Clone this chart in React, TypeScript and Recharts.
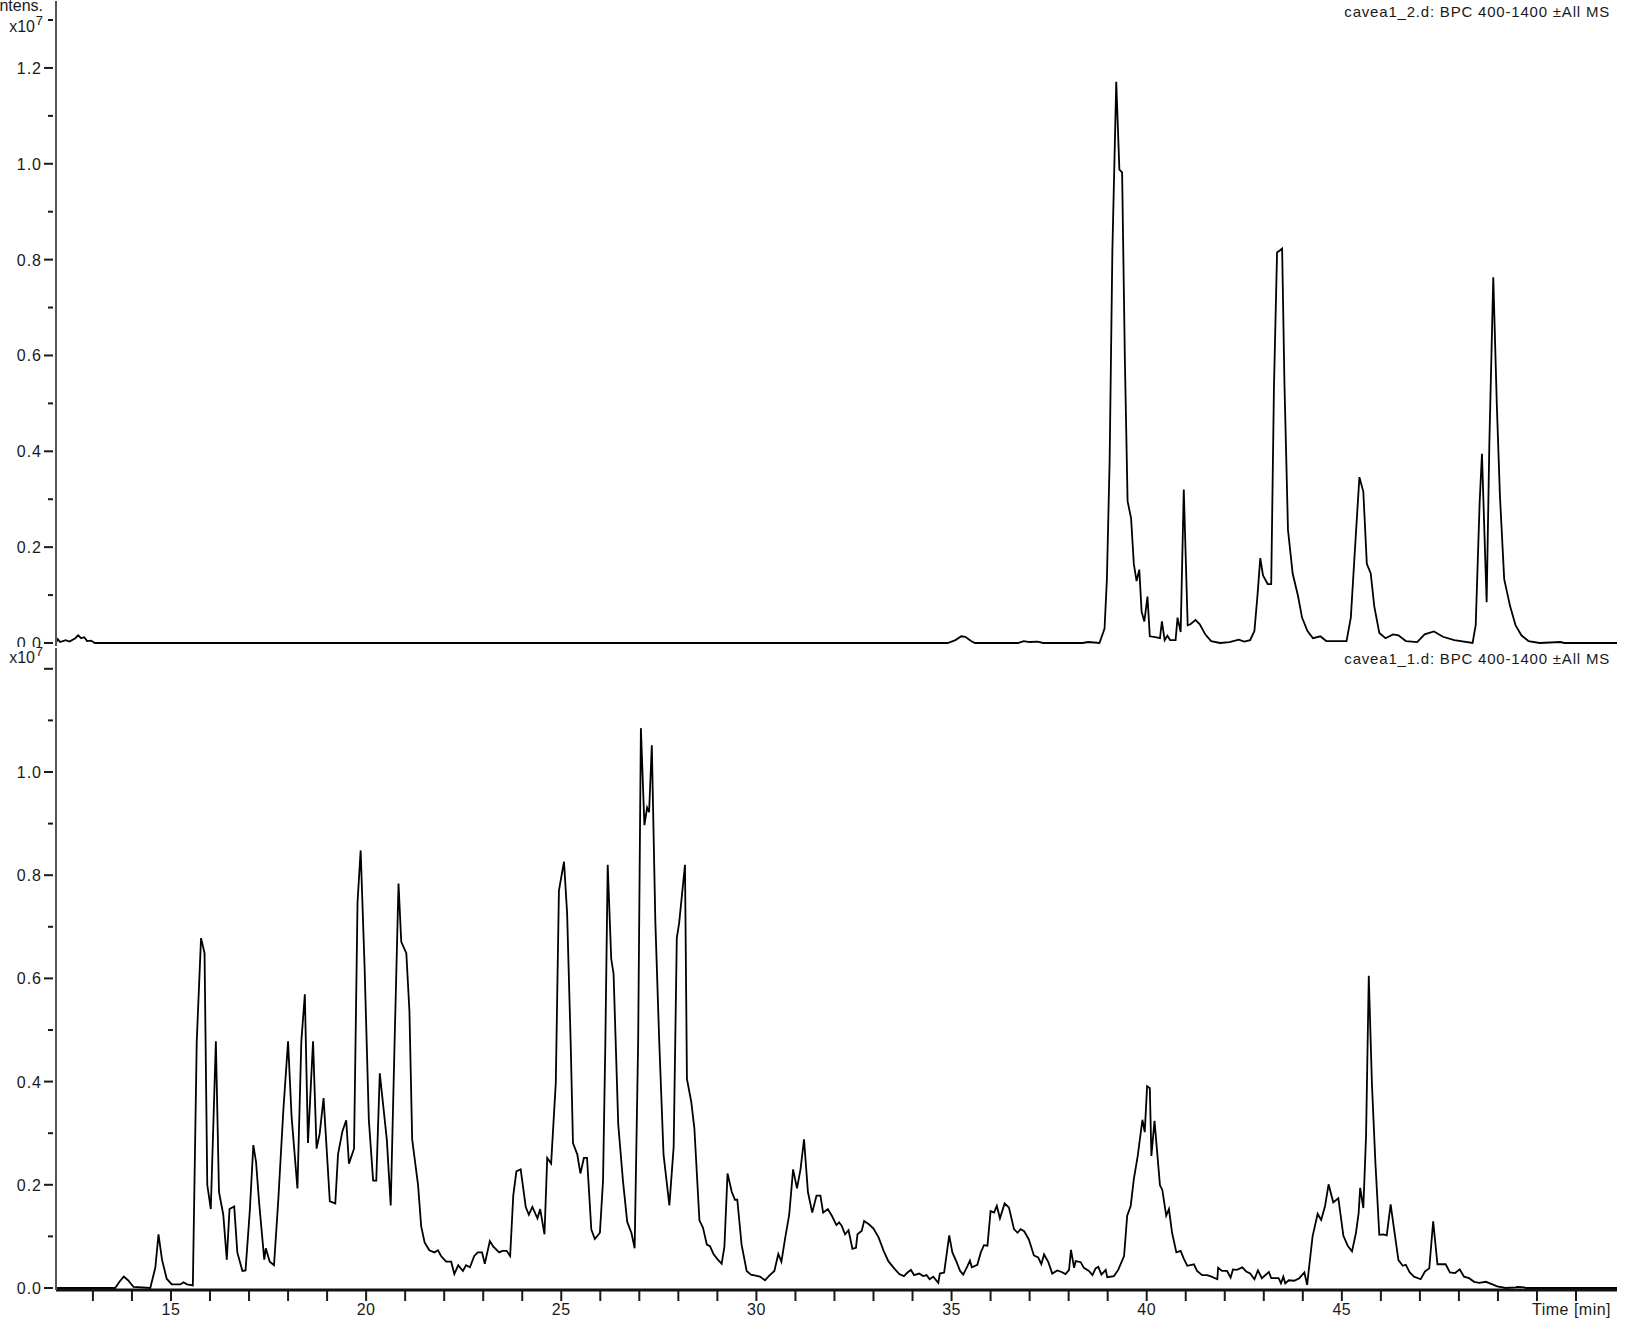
import React from "react"
import { LineChart, Line, XAxis, YAxis } from "recharts"

// time [min] ranges shown in both panels
const X_DOMAIN: [number, number] = [12.054, 52.05]
const X_TICKS = [13, 14, 15, 16, 17, 18, 19, 20, 21, 22, 23, 24, 25, 26, 27, 28, 29, 30, 31, 32, 33, 34, 35, 36, 37, 38, 39, 40, 41, 42, 43, 44, 45, 46, 47, 48, 49, 50, 51]

const TOP_Y_TICKS = [0, 0.1, 0.2, 0.3, 0.4, 0.5, 0.6, 0.7, 0.8, 0.9, 1.0, 1.1, 1.2, 1.3]
const BOTTOM_Y_TICKS = [0, 0.1, 0.2, 0.3, 0.4, 0.5, 0.6, 0.7, 0.8, 0.9, 1.0, 1.1, 1.2]

const TOP_TITLE = "cavea1_2.d: BPC 400-1400 ±All MS"
const BOTTOM_TITLE = "cavea1_1.d: BPC 400-1400 ±All MS"

// cavea1_2.d, [time, intensity x10^7]
const TOP_EARLY: [number, number][] = [
  [12.05, 0], [12.1, 0.008], [12.16, 0.002], [12.3, 0.006], [12.4, 0.003], [12.55, 0.01], [12.62, 0.016],
  [12.7, 0.01], [12.78, 0.012], [12.85, 0.004], [12.95, 0.005], [13.05, 0], [34.9, 0], [35.1, 0.006],
  [35.25, 0.014], [35.35, 0.013], [35.5, 0.004], [35.6, 0], [36.7, 0], [36.85, 0.004], [37.0, 0.002],
  [37.2, 0.003], [37.35, 0], [38.36, 0], [38.5, 0.002], [38.79, 0],
]
const TOP_LATE: [number, number][] = [
  [38.92, 0.03], [38.98, 0.133], [39.05, 0.379], [39.12, 0.817], [39.22, 1.171], [39.3, 0.988], [39.37, 0.982],
  [39.44, 0.594], [39.51, 0.296], [39.6, 0.26], [39.67, 0.165], [39.74, 0.129], [39.81, 0.153], [39.87, 0.065],
  [39.94, 0.045], [40.02, 0.097], [40.08, 0.014], [40.22, 0.012], [40.34, 0.01], [40.39, 0.045], [40.46, 0.006],
  [40.53, 0.015], [40.6, 0.006], [40.74, 0.006], [40.79, 0.053], [40.87, 0.023], [40.95, 0.32], [41.05, 0.037],
  [41.12, 0.039], [41.25, 0.048], [41.36, 0.039], [41.5, 0.018], [41.65, 0.004], [41.88, 0], [42.12, 0.002],
  [42.36, 0.007], [42.5, 0.003], [42.65, 0.006], [42.76, 0.025], [42.84, 0.101], [42.91, 0.177], [42.98, 0.141],
  [43.1, 0.123], [43.19, 0.123], [43.26, 0.531], [43.34, 0.815], [43.41, 0.819], [43.47, 0.823], [43.53, 0.539],
  [43.62, 0.236], [43.74, 0.145], [43.88, 0.097], [43.98, 0.053], [44.12, 0.025], [44.26, 0.01], [44.45, 0.014],
  [44.6, 0.004], [45.12, 0.004], [45.23, 0.053], [45.36, 0.228], [45.45, 0.346], [45.55, 0.316], [45.64, 0.165],
  [45.74, 0.145], [45.83, 0.077], [45.96, 0.021], [46.12, 0.01], [46.31, 0.018], [46.45, 0.016], [46.64, 0.004],
  [46.93, 0.002], [47.12, 0.018], [47.36, 0.024], [47.59, 0.013], [47.88, 0.006], [48.35, 0], [48.43, 0.037],
  [48.53, 0.292], [48.59, 0.395], [48.66, 0.212], [48.71, 0.085], [48.78, 0.419], [48.88, 0.763], [48.97, 0.499],
  [49.05, 0.308], [49.16, 0.133], [49.31, 0.077], [49.45, 0.037], [49.6, 0.016], [49.78, 0.004], [50.07, 0],
  [50.6, 0.002], [50.7, 0], [52.05, 0],
]

// cavea1_1.d
const BOTTOM_A: [number, number][] = [
  [12.05, 0], [13.19, 0], [13.57, 0], [13.68, 0.012], [13.79, 0.022], [13.9, 0.015], [14.04, 0.002], [14.47, 0],
  [14.6, 0.04], [14.68, 0.104], [14.77, 0.055], [14.89, 0.018], [15.02, 0.007], [15.24, 0.007], [15.32, 0.011],
  [15.41, 0.007], [15.56, 0.005], [15.66, 0.478], [15.77, 0.678], [15.86, 0.649], [15.93, 0.2], [16.02, 0.153],
  [16.15, 0.478], [16.23, 0.186], [16.34, 0.142], [16.43, 0.055], [16.5, 0.153], [16.62, 0.158], [16.7, 0.069],
  [16.83, 0.033], [16.91, 0.034], [17.02, 0.15], [17.11, 0.277], [17.18, 0.244], [17.26, 0.164], [17.39, 0.055],
  [17.43, 0.077], [17.53, 0.051], [17.64, 0.044], [17.75, 0.171], [17.88, 0.346], [18.0, 0.478], [18.09, 0.332],
  [18.24, 0.193], [18.34, 0.478], [18.43, 0.569], [18.51, 0.281], [18.64, 0.478], [18.73, 0.27], [18.81, 0.299],
  [18.91, 0.368], [19.07, 0.168], [19.21, 0.164], [19.28, 0.259], [19.39, 0.303], [19.49, 0.325], [19.56, 0.241],
  [19.69, 0.27], [19.78, 0.748], [19.86, 0.848], [19.96, 0.624], [20.07, 0.325], [20.18, 0.208], [20.26, 0.208],
  [20.35, 0.416], [20.53, 0.288], [20.63, 0.16], [20.73, 0.478], [20.83, 0.784], [20.9, 0.671], [21.03, 0.649],
  [21.11, 0.536], [21.18, 0.288], [21.33, 0.2], [21.41, 0.12], [21.5, 0.088], [21.62, 0.073], [21.75, 0.069],
  [21.84, 0.073], [21.92, 0.062], [22.05, 0.051], [22.18, 0.051], [22.26, 0.027], [22.36, 0.044], [22.48, 0.033],
  [22.56, 0.044], [22.66, 0.04], [22.77, 0.062],
]
const BOTTOM_B: [number, number][] = [
  [22.86, 0.069], [22.97, 0.069], [23.04, 0.047], [23.17, 0.091], [23.26, 0.08], [23.41, 0.069], [23.49, 0.072],
  [23.6, 0.072], [23.69, 0.062], [23.77, 0.179], [23.85, 0.226], [23.96, 0.23], [24.09, 0.157], [24.17, 0.142],
  [24.26, 0.157], [24.39, 0.135], [24.46, 0.153], [24.57, 0.104], [24.64, 0.252], [24.74, 0.241], [24.86, 0.398],
  [24.94, 0.77], [25.07, 0.826], [25.15, 0.726], [25.24, 0.478], [25.3, 0.281], [25.41, 0.259], [25.49, 0.222],
  [25.58, 0.252], [25.66, 0.252], [25.77, 0.113], [25.86, 0.095], [25.99, 0.107], [26.07, 0.208], [26.13, 0.478],
  [26.19, 0.82], [26.28, 0.638], [26.34, 0.609], [26.46, 0.317], [26.58, 0.208], [26.69, 0.128], [26.8, 0.106],
  [26.88, 0.077], [26.97, 0.478], [27.04, 1.085], [27.13, 0.897], [27.2, 0.931], [27.25, 0.922], [27.32, 1.052],
  [27.41, 0.711], [27.51, 0.478], [27.62, 0.259], [27.77, 0.16], [27.88, 0.274], [27.96, 0.678], [28.02, 0.707],
  [28.17, 0.82], [28.22, 0.405], [28.33, 0.361], [28.41, 0.31], [28.54, 0.131], [28.63, 0.117], [28.73, 0.084],
  [28.81, 0.081], [28.9, 0.066], [29.0, 0.056], [29.11, 0.047], [29.18, 0.08], [29.26, 0.222], [29.37, 0.186],
  [29.45, 0.171], [29.51, 0.171], [29.62, 0.084], [29.75, 0.033], [29.86, 0.026], [29.98, 0.024], [30.09, 0.022],
  [30.22, 0.015], [30.33, 0.024], [30.46, 0.033], [30.56, 0.066], [30.64, 0.051], [30.74, 0.098], [30.84, 0.142],
  [30.94, 0.23], [31.04, 0.193], [31.13, 0.23], [31.22, 0.288], [31.32, 0.186], [31.43, 0.146], [31.54, 0.179],
  [31.64, 0.179], [31.71, 0.146], [31.83, 0.153], [31.94, 0.139], [32.05, 0.122], [32.12, 0.127],
]
const BOTTOM_C: [number, number][] = [
  [32.19, 0.12], [32.27, 0.104], [32.36, 0.112], [32.46, 0.076], [32.55, 0.078], [32.59, 0.104], [32.7, 0.111],
  [32.76, 0.13], [32.89, 0.123], [33.0, 0.115], [33.13, 0.098], [33.26, 0.072], [33.38, 0.052], [33.53, 0.038],
  [33.66, 0.027], [33.78, 0.023], [33.87, 0.03], [33.96, 0.035], [34.04, 0.025], [34.17, 0.028], [34.27, 0.023],
  [34.36, 0.025], [34.44, 0.017], [34.53, 0.022], [34.66, 0.01], [34.7, 0.028], [34.81, 0.03], [34.94, 0.102],
  [35.02, 0.069], [35.12, 0.052], [35.22, 0.033], [35.3, 0.026], [35.41, 0.043], [35.47, 0.053], [35.52, 0.04],
  [35.66, 0.045], [35.75, 0.069], [35.83, 0.083], [35.92, 0.082], [36.0, 0.149], [36.09, 0.146], [36.16, 0.159],
  [36.24, 0.135], [36.36, 0.164], [36.47, 0.156], [36.6, 0.114], [36.69, 0.107], [36.77, 0.114], [36.86, 0.11],
  [36.98, 0.094], [37.11, 0.063], [37.22, 0.059], [37.3, 0.046], [37.37, 0.065], [37.48, 0.05], [37.58, 0.028],
  [37.71, 0.034], [37.82, 0.031], [37.92, 0.027], [38.01, 0.035], [38.06, 0.074], [38.14, 0.039], [38.18, 0.052],
  [38.31, 0.05], [38.39, 0.039], [38.52, 0.033], [38.61, 0.025], [38.69, 0.038], [38.76, 0.041], [38.84, 0.026],
  [38.95, 0.035], [38.99, 0.021], [39.16, 0.023], [39.27, 0.035], [39.42, 0.062], [39.5, 0.14], [39.59, 0.159],
  [39.67, 0.211], [39.77, 0.256], [39.89, 0.326], [39.95, 0.302], [40.01, 0.391], [40.08, 0.387], [40.12, 0.256],
  [40.2, 0.324], [40.34, 0.199], [40.4, 0.19], [40.5, 0.14], [40.57, 0.153], [40.65, 0.107], [40.76, 0.069],
  [40.87, 0.072], [40.95, 0.057], [41.04, 0.043], [41.21, 0.046], [41.29, 0.033], [41.42, 0.025], [41.55, 0.025],
  [41.66, 0.022], [41.81, 0.017], [41.83, 0.039], [41.93, 0.033], [42.06, 0.033], [42.15, 0.02],
]
const BOTTOM_D: [number, number][] = [
  [42.21, 0.036], [42.31, 0.035], [42.45, 0.04], [42.55, 0.032], [42.65, 0.028], [42.76, 0.017], [42.85, 0.034],
  [42.95, 0.019], [43.13, 0.031], [43.19, 0.019], [43.38, 0.019], [43.44, 0.009], [43.5, 0.022], [43.55, 0.009],
  [43.64, 0.015], [43.78, 0.014], [43.91, 0.019], [44.04, 0.03], [44.11, 0.006], [44.25, 0.1], [44.38, 0.144],
  [44.47, 0.132], [44.57, 0.159], [44.66, 0.201], [44.78, 0.166], [44.91, 0.174], [45.04, 0.101], [45.15, 0.082],
  [45.26, 0.071], [45.36, 0.106], [45.43, 0.145], [45.47, 0.194], [45.55, 0.155], [45.62, 0.294], [45.69, 0.605],
  [45.77, 0.397], [45.86, 0.242], [45.96, 0.103], [46.06, 0.104], [46.15, 0.102], [46.25, 0.162], [46.34, 0.113],
  [46.45, 0.054], [46.56, 0.043], [46.64, 0.045], [46.74, 0.03], [46.85, 0.022], [47.02, 0.017], [47.13, 0.032],
  [47.24, 0.038], [47.34, 0.129], [47.45, 0.046], [47.66, 0.046], [47.77, 0.03], [47.9, 0.029], [48.02, 0.036],
  [48.13, 0.022], [48.26, 0.019], [48.39, 0.012], [48.52, 0.01], [48.69, 0.012], [48.86, 0.007], [48.98, 0.003],
  [49.2, 0], [49.45, 0.001], [49.5, 0.002], [49.68, 0.001], [49.71, 0], [52.05, 0],
]

const toRows = (...parts: [number, number][][]) =>
  parts.flat().map(([t, v]) => ({ t, v }))

const topData = toRows(TOP_EARLY, TOP_LATE)
const bottomData = toRows(BOTTOM_A, BOTTOM_B, BOTTOM_C, BOTTOM_D)

const FONT = '"Liberation Sans", Arial, Helvetica, sans-serif'
const FRAME = "#555"
const INK = "#1a1a1a"

function YTick(props: any) {
  const { x, y, payload, scaleAt, scaleAbove } = props
  const v = Number(payload.value)
  const tenths = Math.round(v * 10)
  const major = tenths % 2 === 0
  const isScale = Math.abs(v - scaleAt) < 1e-6
  return (
    <g>
      <line x1={x - (major ? 12 : 8)} x2={x - 3} y1={y} y2={y} stroke={INK} strokeWidth={2} />
      {isScale ? (
        <g fill={INK} fontFamily={FONT}>
          <text x={x - 21} y={y + (scaleAbove ? -6 : 12)} textAnchor="end" fontSize={16}>x10</text>
          <text x={x - 13} y={y + (scaleAbove ? -13 : 5)} textAnchor="end" fontSize={13}>7</text>
        </g>
      ) : major ? (
        <text x={x - 14} y={y} dy={6} textAnchor="end" fontSize={16} fill={INK} fontFamily={FONT} letterSpacing={1}>
          {v.toFixed(1)}
        </text>
      ) : null}
    </g>
  )
}

function XTick(props: any) {
  const { x, y, payload } = props
  const t = Number(payload.value)
  return (
    <g>
      <line x1={x} x2={x} y1={y + 1} y2={y + 11} stroke={INK} strokeWidth={2} />
      {t === 50 ? (
        <text x={x - 5} y={y + 25} fontSize={16} fill={INK} fontFamily={FONT} letterSpacing={0.5}>
          Time [min]
        </text>
      ) : t % 5 === 0 ? (
        <text x={x} y={y + 25} textAnchor="middle" fontSize={16} fill={INK} fontFamily={FONT} letterSpacing={0.5}>
          {t}
        </text>
      ) : null}
    </g>
  )
}

export default function App() {
  return (
    <div
      style={{
        position: "absolute",
        left: 0,
        top: 0,
        width: 1634,
        height: 1333,
        background: "#fff",
        overflow: "hidden",
        fontFamily: FONT,
      }}
    >
      {/* upper trace: cavea1_2 */}
      <div style={{ position: "absolute", left: 0, top: 0 }}>
        <LineChart width={1634} height={647} data={topData} margin={{ top: 1, right: 17, bottom: 1, left: 0 }}>
          <XAxis
            dataKey="t"
            type="number"
            domain={X_DOMAIN}
            allowDataOverflow
            height={0}
            tick={false}
            tickLine={false}
            axisLine={{ stroke: "#111", strokeWidth: 3 }}
          />
          <XAxis
            xAxisId="top"
            orientation="top"
            dataKey="t"
            type="number"
            domain={X_DOMAIN}
            allowDataOverflow
            height={0}
            tick={false}
            tickLine={false}
            axisLine={{ stroke: FRAME, strokeWidth: 2 }}
          />
          <YAxis
            width={56}
            type="number"
            domain={[-0.0063, 1.3397]}
            allowDataOverflow
            ticks={TOP_Y_TICKS}
            interval={0}
            tickSize={0}
            tickMargin={0}
            tickLine={false}
            axisLine={{ stroke: FRAME, strokeWidth: 2 }}
            tick={(p: any) => <YTick {...p} scaleAt={1.3} scaleAbove={false} />}
          />
          <YAxis
            yAxisId="r"
            orientation="right"
            width={0}
            tick={false}
            tickLine={false}
            axisLine={{ stroke: FRAME, strokeWidth: 2 }}
          />
          <Line
            type="linear"
            dataKey="v"
            stroke="#000"
            strokeWidth={1.8}
            dot={false}
            activeDot={false}
            isAnimationActive={false}
          />
        </LineChart>
      </div>

      {/* lower trace: cavea1_1 */}
      <div style={{ position: "absolute", left: 0, top: 640 }}>
        <LineChart width={1634} height={693} data={bottomData} margin={{ top: 8, right: 17, bottom: 0, left: 0 }}>
          <XAxis
            dataKey="t"
            type="number"
            domain={X_DOMAIN}
            allowDataOverflow
            height={43}
            ticks={X_TICKS}
            interval={0}
            tickSize={0}
            tickMargin={0}
            tickLine={false}
            axisLine={{ stroke: "#111", strokeWidth: 3 }}
            tick={(p: any) => <XTick {...p} />}
          />
          <YAxis
            width={56}
            type="number"
            domain={[-0.0039, 1.2403]}
            allowDataOverflow
            ticks={BOTTOM_Y_TICKS}
            interval={0}
            tickSize={0}
            tickMargin={0}
            tickLine={false}
            axisLine={{ stroke: FRAME, strokeWidth: 2 }}
            tick={(p: any) => <YTick {...p} scaleAt={1.2} scaleAbove={true} />}
          />
          <YAxis
            yAxisId="r"
            orientation="right"
            width={0}
            tick={false}
            tickLine={false}
            axisLine={{ stroke: FRAME, strokeWidth: 2 }}
          />
          <Line
            type="linear"
            dataKey="v"
            stroke="#000"
            strokeWidth={1.8}
            dot={false}
            activeDot={false}
            isAnimationActive={false}
          />
        </LineChart>
      </div>

      {/* axis caption and trace titles */}
      <svg width={1634} height={1333} style={{ position: "absolute", left: 0, top: 0, pointerEvents: "none" }}>
        <g fontFamily={FONT} fill={INK}>
          <text x={43} y={11} textAnchor="end" fontSize={16}>Intens.</text>
          <text x={1610} y={17} textAnchor="end" fontSize={15} letterSpacing={0.8}>{TOP_TITLE}</text>
          <text x={1610} y={664} textAnchor="end" fontSize={15} letterSpacing={0.8}>{BOTTOM_TITLE}</text>
        </g>
      </svg>
    </div>
  )
}
